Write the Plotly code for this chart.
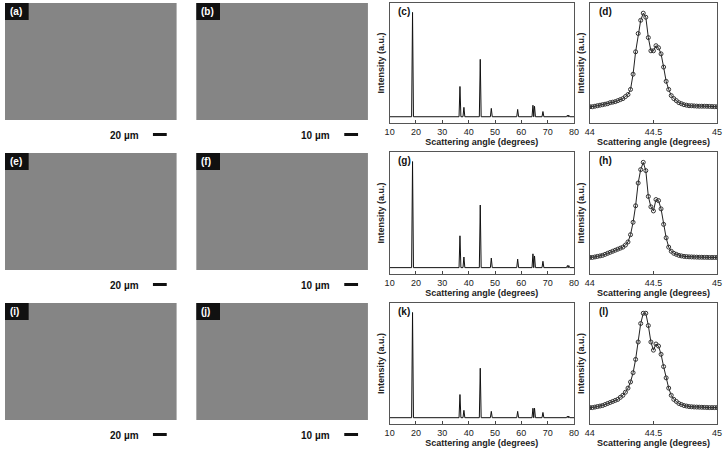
import plotly.graph_objects as go

# wide-scan XRD peaks: centres (deg) and relative heights, per sample
peak_pos = [18.7, 36.7, 38.2, 44.4, 48.6, 58.6, 64.4, 65.0, 68.2, 77.5, 78.0]
heights_c = [1.00, 0.29, 0.09, 0.55, 0.08, 0.07, 0.11, 0.10, 0.05, 0.015, 0.015]
heights_g = [1.00, 0.30, 0.10, 0.59, 0.09, 0.08, 0.13, 0.11, 0.06, 0.02, 0.02]
heights_k = [1.00, 0.22, 0.07, 0.47, 0.06, 0.06, 0.09, 0.09, 0.05, 0.015, 0.015]

# zoomed (44-45 deg) scans
zoom_x = [44.00, 44.02, 44.04, 44.06, 44.08, 44.10, 44.12, 44.14, 44.16, 44.18, 44.20,
          44.22, 44.24, 44.26, 44.28, 44.30, 44.32, 44.34, 44.36, 44.38, 44.40, 44.42,
          44.44, 44.46, 44.48, 44.50, 44.52, 44.54, 44.56, 44.58, 44.60, 44.62, 44.64,
          44.66, 44.68, 44.70, 44.72, 44.74, 44.76, 44.78, 44.80, 44.82, 44.84, 44.86,
          44.88, 44.90, 44.92, 44.94, 44.96, 44.98, 45.00]
zoom_d = [0.08, 0.08, 0.085, 0.09, 0.095, 0.10, 0.105, 0.11, 0.12, 0.125, 0.13,
          0.14, 0.15, 0.16, 0.18, 0.20, 0.25, 0.40, 0.62, 0.80, 0.93, 1.00,
          0.96, 0.76, 0.63, 0.63, 0.68, 0.66, 0.60, 0.47, 0.33, 0.25, 0.19,
          0.16, 0.14, 0.12, 0.11, 0.10, 0.095, 0.09, 0.09, 0.088, 0.086, 0.085,
          0.085, 0.085, 0.084, 0.083, 0.082, 0.081, 0.08]
zoom_h = [0.08, 0.08, 0.085, 0.09, 0.095, 0.10, 0.11, 0.12, 0.13, 0.14, 0.15,
          0.16, 0.17, 0.18, 0.20, 0.23, 0.30, 0.42, 0.58, 0.80, 0.93, 1.00,
          0.92, 0.67, 0.57, 0.53, 0.64, 0.63, 0.55, 0.40, 0.27, 0.18, 0.14,
          0.12, 0.11, 0.10, 0.095, 0.09, 0.088, 0.086, 0.085, 0.084, 0.083, 0.082,
          0.082, 0.081, 0.081, 0.080, 0.080, 0.080, 0.080]
zoom_l = [0.08, 0.08, 0.085, 0.09, 0.095, 0.10, 0.11, 0.12, 0.13, 0.14, 0.15,
          0.16, 0.18, 0.20, 0.23, 0.27, 0.33, 0.42, 0.55, 0.72, 0.90, 1.00,
          1.00, 0.88, 0.72, 0.64, 0.70, 0.68, 0.60, 0.48, 0.37, 0.27, 0.20,
          0.16, 0.14, 0.12, 0.11, 0.10, 0.095, 0.09, 0.088, 0.086, 0.085, 0.084,
          0.083, 0.082, 0.081, 0.080, 0.080, 0.080, 0.080]

panel_labels_xrd = ["(c)", "(g)", "(k)"]
panel_labels_zoom = ["(d)", "(h)", "(l)"]
sem_labels = [["(a)", "(b)"], ["(e)", "(f)"], ["(i)", "(j)"]]
scale_labels = ["20 µm", "10 µm"]
xrd_ticks = [10, 20, 30, 40, 50, 60, 70, 80]
zoom_ticks = [44, 44.5, 45]

W, H = 725, 449
def px(x): return x / W
def py(y): return 1 - y / H

rows = [(3, 123), (152, 274), (303, 424)]
sem_rows = [(3, 120), (153, 270), (303, 420)]

def profile(heights):
    xs, ys = [10.0], [0.0]
    for c, h in zip(peak_pos, heights):
        xs += [c - 0.35, c, c + 0.35]
        ys += [0.0, h, 0.0]
    xs.append(80.0); ys.append(0.0)
    return xs, ys

fig = go.Figure()
font = dict(family="Liberation Sans, Arial", size=9, color="#222")
shapes, ann = [], []

for r, ((t, b), (st, sb)) in enumerate(zip(rows, sem_rows)):
    for c, (x0, x1) in enumerate([(0, 174), (194, 368)]):
        shapes.append(dict(type="rect", xref="paper", yref="paper", x0=px(x0), x1=px(x1),
                           y0=py(sb), y1=py(st), fillcolor="#858585", line=dict(width=0), layer="below"))
        shapes.append(dict(type="rect", xref="paper", yref="paper", x0=px(x0), x1=px(x0 + 24),
                           y0=py(st + 17), y1=py(st), fillcolor="#111", line=dict(width=0)))
        ann.append(dict(text="<b>%s</b>" % sem_labels[r][c], xref="paper", yref="paper",
                        x=px(x0 + 3), y=py(st + 8), xanchor="left", yanchor="middle", showarrow=False,
                        font=dict(family="Liberation Sans, Arial", size=10, color="white")))
        bx = x0 + 150
        ann.append(dict(text="<b>%s</b>" % scale_labels[c], xref="paper", yref="paper",
                        x=px(bx - 12), y=py(sb + 15), xanchor="right", yanchor="middle",
                        showarrow=False, font=dict(family="Liberation Sans, Arial", size=10, color="#111")))
        shapes.append(dict(type="rect", xref="paper", yref="paper", x0=px(bx), x1=px(bx + 14),
                           y0=py(sb + 16), y1=py(sb + 13), fillcolor="#111", line=dict(width=0)))

    i = 2 * r + 1
    xa, ya = ("x" if i == 1 else "x%d" % i), ("y" if i == 1 else "y%d" % i)
    heights = [heights_c, heights_g, heights_k][r]
    xs, ys = profile(heights)
    fig.add_trace(go.Scatter(x=xs, y=ys, mode="lines", line=dict(color="#111", width=1),
                             xaxis=xa, yaxis=ya, showlegend=False))
    dom_y = [py(b), py(t)]
    ax = dict(domain=[px(390), px(577)], anchor=ya, range=[10, 80], tickvals=xrd_ticks,
              ticks="inside", ticklen=3, mirror=True, showline=True, linecolor="#555",
              showgrid=False, zeroline=False, tickfont=font,
              title=dict(text="<b>Scattering angle (degrees)</b>", font=font, standoff=0))
    ayd = dict(domain=dom_y, anchor=xa, range=[-0.06, 1.09], showticklabels=False, ticks="",
               mirror=True, showline=True, linecolor="#555", showgrid=False, zeroline=False,
               title=dict(text="<b>Intensity (a.u.)</b>", font=font, standoff=2))
    fig.update_layout(**{("xaxis" if i == 1 else "xaxis%d" % i): ax,
                         ("yaxis" if i == 1 else "yaxis%d" % i): ayd})
    ann.append(dict(text="<b>%s</b>" % panel_labels_xrd[r], xref="paper", yref="paper",
                    x=px(396), y=py(t + 8), xanchor="left", yanchor="middle", showarrow=False,
                    font=dict(family="Liberation Sans, Arial", size=10, color="#111")))

    j = 2 * r + 2
    xa2, ya2 = "x%d" % j, "y%d" % j
    zy = [zoom_d, zoom_h, zoom_l][r]
    fig.add_trace(go.Scatter(x=zoom_x, y=zy, mode="lines+markers",
                             line=dict(color="#222", width=1),
                             marker=dict(symbol="circle-open", size=4, color="#333", line=dict(width=1)),
                             xaxis=xa2, yaxis=ya2, showlegend=False))
    ax2 = dict(domain=[px(593), px(722)], anchor=ya2, range=[44, 45], tickvals=zoom_ticks,
               ticktext=["44", "44.5", "45"], ticks="inside", ticklen=3, mirror=True, showline=True,
               linecolor="#555", showgrid=False, zeroline=False, tickfont=font,
               title=dict(text="<b>Scattering angle (degrees)</b>", font=font, standoff=0))
    ay2 = dict(domain=dom_y, anchor=xa2, range=[-0.08, 1.1], showticklabels=False, ticks="",
               mirror=True, showline=True, linecolor="#555", showgrid=False, zeroline=False,
               title=dict(text="<b>Intensity (a.u.)</b>", font=font, standoff=2))
    fig.update_layout(**{"xaxis%d" % j: ax2, "yaxis%d" % j: ay2})
    ann.append(dict(text="<b>%s</b>" % panel_labels_zoom[r], xref="paper", yref="paper",
                    x=px(600), y=py(t + 8), xanchor="left", yanchor="middle", showarrow=False,
                    font=dict(family="Liberation Sans, Arial", size=10, color="#111")))

fig.update_layout(width=W, height=H, margin=dict(l=0, r=0, t=0, b=0),
                  paper_bgcolor="white", plot_bgcolor="white", shapes=shapes, annotations=ann)
fig.write_html("out.html", config={"displayModeBar": False},
               post_script="document.body.style.margin='0';document.body.style.overflow='hidden';")
